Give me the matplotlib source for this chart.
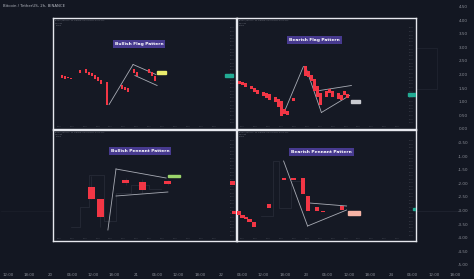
import matplotlib
matplotlib.use("Agg")
import matplotlib.pyplot as plt
import matplotlib.transforms as mtransforms
import numpy as np

# --- main chart (background) ---
main_title = "Bitcoin / TetherUS, 2h, BINANCE"
main_price_ticks = [4.5, 4.0, 3.5, 3.0, 2.5, 2.0, 1.5, 1.0, 0.5, 0.0,
                    -0.5, -1.0, -1.5, -2.0, -2.5, -3.0, -3.5, -4.0, -4.5, -5.0]
time_hours = [0, 6, 12, 18, 24, 30, 36, 42, 48, 54, 60, 66, 72, 78, 84, 90, 96, 102, 108, 114, 120, 126]
time_labels = ["12:00", "18:00", "20", "06:00", "12:00", "18:00", "21", "06:00", "12:00", "18:00", "22",
               "06:00", "12:00", "18:00", "23", "06:00", "12:00", "18:00", "24", "06:00", "12:00", "18:00"]

# --- panel 1: bullish flag ---
bf_x = [3, 4, 5, 6, 9, 11, 12, 13, 14, 15, 16, 18, 23, 24, 25, 27, 28, 32, 33, 34]
bf_open = [54, 53, 52, 51, 59, 60, 57, 56, 54, 52, 49, 47, 44, 42, 41, 60, 57, 60, 57, 53]
bf_close = [51, 50, 51, 50, 56, 56, 54, 53, 50, 48, 45, 24, 40, 39, 37, 56, 53, 56, 53, 48]
bf_pole = ([18.7, 26.7], [24, 64])
bf_upper = ([26.7, 34.3], [64, 54])
bf_lower = ([27.3, 34.7], [53, 43])

# --- panel 2: bearish flag ---
sf_x = [1, 2, 3, 5, 6, 7, 9, 10, 11, 13, 14, 15, 16, 17, 19, 23, 24, 25, 26, 27, 28, 30, 31, 32, 34, 35, 36, 37]
sf_open = [48, 47, 46, 43, 41, 39, 37, 36, 35, 32, 30, 28, 20, 18, 31, 63, 58, 54, 50, 43, 36, 38, 40, 38, 36, 34, 38, 35]
sf_close = [45, 44, 42, 40, 37, 35, 33, 31, 29, 27, 22, 13, 15, 14, 28, 53, 52, 48, 38, 32, 24, 32, 36, 32, 30, 29, 34, 31]
sf_rise = ([15.7, 22.3], [15, 62])
sf_pole = ([23, 28.3], [62, 16])
sf_lower = ([28.3, 37.7], [16, 33])
sf_upper = ([27.7, 38.3], [38, 43])

# --- panel 3: bullish pennant ---
bp_x = [12.8, 15.7, 24.2, 29.8, 38.3]
bp_open = [54, 42, 61, 59, 60]
bp_close = [42, 24, 58, 51, 57]
bp_high = [65, 42, 63, 62, 61]
bp_low = [42, 14, 56, 48, 56]
bp_pole = ([18.3, 21], [11, 72])
bp_upper = ([21, 37.7], [72, 63])
bp_lower = ([21, 38.3], [45, 49])
bp_bg_x = [6, 9, 9, 12, 12, 17, 17, 21, 21, 26, 26, 32, 32, 36]
bp_bg_y = [14, 14, 34, 34, 66, 66, 20, 20, 48, 48, 56, 56, 52, 52]

# --- panel 4: bearish pennant ---
sp_x = [0.7, 2, 3.2, 4.3, 5.7, 10.7, 15.8, 19, 22.2, 23.7, 26.8, 28.8, 35.2]
sp_open = [30, 26, 24, 22, 19, 37, 63, 63, 63, 45, 34, 30, 35]
sp_close = [26, 23, 22, 19, 14, 33, 61, 61, 47, 30, 30, 29, 31]
sp_pole = ([15.7, 23.7], [80, 15])
sp_lower = ([23.7, 36.7], [15, 31])
sp_upper = ([24.3, 36.7], [38, 35])
sp_bg_x = [8, 12, 12, 14, 14, 18, 18, 21]
sp_bg_y = [25, 25, 80, 80, 33, 33, 60, 60]

BG = "#131722"
RED = "#f23645"
LINE = "#a9acb5"
GRID = "#222632"
TXT = "#8b8e97"

W, H = 474, 279
fig = plt.figure(figsize=(W / 100, H / 100), dpi=100, facecolor=BG)


def rect(l, t, r, b):
    return [l / W, 1 - b / H, (r - l) / W, (b - t) / H]


# main chart axes
ax = fig.add_axes([0, 0, 1, 1], facecolor=BG)
ax.set_xlim(-8 * 6 / 21.3, (W - 8) * 6 / 21.3)
ax.set_ylim(4.5 - (H - 7) / 27.2, 4.5 + 7 / 27.2)
ax.set_xticks([])
ax.set_yticks([])
for s in ax.spines.values():
    s.set_visible(False)

ty = mtransforms.blended_transform_factory(ax.transAxes, ax.transData)
for p in main_price_ticks:
    ax.text(463 / W, p, f"{p:.2f}", transform=ty, ha="center", va="center",
            fontsize=3, color=TXT)
tx = mtransforms.blended_transform_factory(ax.transData, ax.transAxes)
for h, lab in zip(time_hours, time_labels):
    ax.text(h, 1 - 275 / H, lab, transform=tx, ha="center", va="center",
            fontsize=2.8, color=TXT)
ax.text(3 / W, 1 - 6 / H, main_title, transform=ax.transAxes, ha="left",
        va="center", fontsize=2.8, color="#b2b5be")

# faint drawing remnants on the main chart
ax.plot([114.9, 120.8, 120.8, 114.9], [3.0, 3.0, 1.5, 1.5], color=GRID, lw=0.5)
ax.plot([114.9, 127.3], [-3.0, -3.0], color=GRID, lw=0.5)
ax.plot([-2, 13], [-3.0, -3.0], color="#1c202b", lw=0.5)


def panel(r, title, xs, opens, closes, width, lines, tag, tag_color, green=None, extra=None):
    pax = fig.add_axes(rect(*r), facecolor="#151924")
    wbar = (r[2] - r[0]) / 3
    hbar = r[3] - r[1]
    pax.set_xlim(0, wbar)
    pax.set_ylim(0, hbar)
    for s in pax.spines.values():
        s.set_color("#e6e8ee")
        s.set_linewidth(1.0)
    pax.set_xticks([])
    pax.set_yticks([])
    # tiny inner axes labels
    for yy in np.arange(6, hbar - 8, 3.5):
        pax.text(wbar - 1.6, yy, "00.00", fontsize=1.2, color="#5d606b",
                 ha="center", va="center")
    for xx in np.arange(2, wbar - 4, 4.3):
        pax.text(xx, 2.2, "00:00", fontsize=1.2, color="#5d606b",
                 ha="center", va="center")
    pax.text(0.8, hbar - 2.5, "Bitcoin / TetherUS · 2h · BINANCE  O 0.00 H 0.00 L 0.00 C 0.00",
             fontsize=1.2, color="#787b86", ha="left", va="center")
    pax.text(0.8, hbar - 5, "Vol  0.00", fontsize=1.2, color="#787b86", ha="left", va="center")
    pax.text(0.8, hbar - 7, "Pattern", fontsize=1.2, color="#787b86", ha="left", va="center")

    if extra is not None:
        pax.plot(extra[0], extra[1], color="#2a2e3a", lw=0.5, zorder=1)
    for lx, ly in lines:
        pax.plot(lx, ly, color=LINE, lw=0.6, zorder=2)
    heights = [c - o for o, c in zip(opens, closes)]
    pax.bar(xs, heights, bottom=opens, width=width, color=RED, zorder=3)

    tx0, ty0, tw, th = tag
    pax.add_patch(plt.Rectangle((tx0, ty0), tw, th, color=tag_color, zorder=4))
    if green is not None:
        pax.add_patch(plt.Rectangle((green[0], green[1] - 1), 2.7, 2.2, color="#22ab94", zorder=4))
    tc = title[1]
    pax.text(tc[0], tc[1], title[0], fontsize=3.2, color="white", fontweight="bold",
             ha="center", va="center", zorder=5,
             bbox=dict(boxstyle="square,pad=0.45", fc="#473a8f", ec="none"))
    return pax


panel((53, 18, 236.5, 128.5), ("Bullish Flag Pattern", (28.7, 85)), bf_x, bf_open, bf_close, 0.7,
      [bf_pole, bf_upper, bf_lower], (34.7, 55, 2.8, 3), "#e9ec6c", green=(57.3, 53))
panel((236.5, 18, 416, 128.5), ("Bearish Flag Pattern", (26, 88.5)), sf_x, sf_open, sf_close, 0.7,
      [sf_rise, sf_pole, sf_lower, sf_upper], (38.3, 26, 3, 2.5), "#c9cbd1", green=(57, 34))
p3 = panel((53, 129.5, 236.5, 241), ("Bullish Pennant Pattern", (29, 90)), bp_x, bp_open, bp_close, 2.4,
           [bp_pole, bp_upper, bp_lower], (38.3, 64, 4, 2.4), "#9bd56b",
           extra=(bp_bg_x, bp_bg_y))
p3.vlines(bp_x, bp_low, bp_high, color="#2a2e3a", lw=0.5, zorder=1)
p3.bar([59.8, 60.6], [-4, -3], bottom=[60, 30], width=1.6, color=RED, zorder=3)
panel((236.5, 129.5, 416, 241), ("Bearish Pennant Pattern", (28.3, 89)), sp_x, sp_open, sp_close, 1.4,
      [sp_pole, sp_lower, sp_upper], (37, 26, 4, 3.6), "#f7b3a5", green=(58.7, 32),
      extra=(sp_bg_x, sp_bg_y))

fig.savefig("out.png", dpi=100, facecolor=BG)
